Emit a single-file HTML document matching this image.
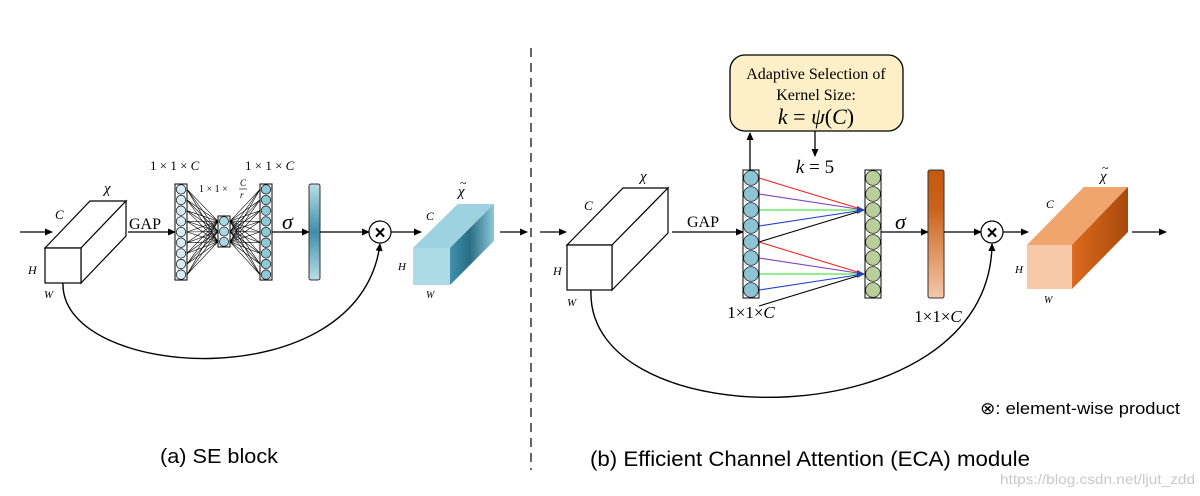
<!DOCTYPE html>
<html><head><meta charset="utf-8"><style>
html,body{margin:0;padding:0;background:#fff;}
svg{display:block;}
text{font-family:"Liberation Serif",serif;}
.sans{font-family:"Liberation Sans",sans-serif;}
</style></head><body>
<svg id="s" width="1200" height="496" viewBox="0 0 1200 496" xmlns="http://www.w3.org/2000/svg">
<defs>
<marker id="ar" markerWidth="8" markerHeight="8" refX="7" refY="4" orient="auto" markerUnits="userSpaceOnUse"><path d="M0,0.5 L8,4 L0,7.5 z" fill="#000"/></marker>
<linearGradient id="gb" x1="0" y1="0" x2="0" y2="1"><stop offset="0" stop-color="#b9dfe8"/><stop offset="0.5" stop-color="#3f8ea8"/><stop offset="1" stop-color="#b9dfe8"/></linearGradient>
<linearGradient id="go" x1="0" y1="0" x2="0" y2="1"><stop offset="0" stop-color="#c4580f"/><stop offset="0.3" stop-color="#c9631c"/><stop offset="1" stop-color="#f5c9a8"/></linearGradient>
<linearGradient id="cubeb" x1="0" y1="0" x2="1" y2="0"><stop offset="0" stop-color="#a8d6e2"/><stop offset="0.5" stop-color="#3a8aa5"/><stop offset="0.7" stop-color="#2a6d85"/><stop offset="1" stop-color="#8cc8d8"/></linearGradient>
<linearGradient id="cubeo" x1="0" y1="0" x2="1" y2="0"><stop offset="0" stop-color="#f2a36a"/><stop offset="0.5" stop-color="#d8661c"/><stop offset="1" stop-color="#a84a0c"/></linearGradient>
</defs>

<line x1="20" y1="232" x2="52" y2="232" stroke="#000" stroke-width="1.3" marker-end="url(#ar)"/>
<g fill="#fff" stroke="#000" stroke-width="1.2">
<polygon points="45,248 90,201 126,201 81,248"/>
<polygon points="81,248 126,201 126,236 81,283"/>
<rect x="45" y="248" width="36" height="35"/>
</g>
<text x="104" y="193" font-style="italic" font-size="15">χ</text>
<text x="55" y="219" font-style="italic" font-size="13">C</text>
<text x="28" y="274" font-style="italic" font-size="12">H</text>
<text x="44" y="298" font-style="italic" font-size="11">W</text>
<text x="129" y="229" font-size="16">GAP</text>
<line x1="128" y1="232" x2="175" y2="232" stroke="#000" stroke-width="1.3" marker-end="url(#ar)"/>
<text x="150" y="170" font-size="13" font-family="DejaVu Serif,serif">1 × 1 × <tspan font-style="italic">C</tspan></text>
<text x="245" y="170" font-size="13" font-family="DejaVu Serif,serif">1 × 1 × <tspan font-style="italic">C</tspan></text>
<text x="199" y="192" font-size="10" font-family="DejaVu Serif,serif">1 × 1 ×</text>
<text x="240" y="186" font-size="9" font-style="italic">C</text>
<line x1="239" y1="189" x2="247" y2="189" stroke="#000" stroke-width="0.6"/>
<text x="240" y="198" font-size="9" font-style="italic">r</text>
<g id="se"></g>
<text x="282" y="229" font-size="22" font-style="italic">σ</text>
<line x1="272" y1="232" x2="309" y2="232" stroke="#000" stroke-width="1.3" marker-end="url(#ar)"/>
<rect x="309" y="184" width="11" height="96" rx="2" fill="url(#gb)" stroke="#333" stroke-width="1"/>
<line x1="320" y1="232" x2="369" y2="232" stroke="#000" stroke-width="1.3" marker-end="url(#ar)"/>
<circle cx="380" cy="232" r="11" fill="#fff" stroke="#000" stroke-width="1.2"/>
<text x="380" y="239" font-size="19" text-anchor="middle" class="sans" font-weight="bold">×</text>
<line x1="391" y1="232" x2="421" y2="232" stroke="#000" stroke-width="1.3" marker-end="url(#ar)"/>
<polygon points="413,248 458,204 494,204 494,241 450,285 413,285" fill="url(#cubeb)"/>
<polygon points="413,248 458,204 494,204 450,248" fill="#9fd2e0"/>
<rect x="413" y="248" width="37" height="37" fill="#acdbe6"/>
<text x="458" y="196" font-style="italic" font-size="15">χ</text>
<text x="460" y="187" font-size="12">~</text>
<text x="426" y="220" font-style="italic" font-size="12">C</text>
<text x="398" y="270" font-style="italic" font-size="11">H</text>
<text x="426" y="298" font-style="italic" font-size="10">W</text>
<line x1="500" y1="232" x2="527" y2="232" stroke="#000" stroke-width="1.3" marker-end="url(#ar)"/>
<path d="M63,283 C60,380 360,400 380,244" fill="none" stroke="#000" stroke-width="1.4" marker-end="url(#ar)"/>
<line x1="531" y1="48" x2="531" y2="470" stroke="#000" stroke-width="1.2" stroke-dasharray="9,6"/>

<line x1="540" y1="232" x2="566" y2="232" stroke="#000" stroke-width="1.3" marker-end="url(#ar)"/>
<g fill="#fff" stroke="#000" stroke-width="1.2">
<polygon points="567,245 623,188 668,188 612,245"/>
<polygon points="612,245 668,188 668,233 612,290"/>
<rect x="567" y="245" width="45" height="45"/>
</g>
<text x="640" y="181" font-style="italic" font-size="15">χ</text>
<text x="584" y="210" font-style="italic" font-size="13">C</text>
<text x="553" y="275" font-style="italic" font-size="12">H</text>
<text x="567" y="306" font-style="italic" font-size="11">W</text>
<text x="687" y="227" font-size="16">GAP</text>
<line x1="672" y1="232" x2="743" y2="232" stroke="#000" stroke-width="1.3" marker-end="url(#ar)"/>
<rect x="730" y="55" width="173" height="76" rx="15" fill="#fdf0c8" stroke="#000" stroke-width="1.3"/>
<text x="816" y="79" font-size="16" text-anchor="middle">Adaptive Selection of</text>
<text x="816" y="100" font-size="16" text-anchor="middle">Kernel Size:</text>
<text x="816" y="124" font-size="22" text-anchor="middle" font-style="italic">k <tspan font-style="normal">=</tspan> ψ<tspan font-style="normal">(</tspan>C<tspan font-style="normal">)</tspan></text>
<line x1="750" y1="170" x2="750" y2="133" stroke="#000" stroke-width="1.3" marker-end="url(#ar)"/>
<line x1="815" y1="131" x2="815" y2="156" stroke="#000" stroke-width="1.3" marker-end="url(#ar)"/>
<text x="815" y="173" font-size="19" text-anchor="middle" font-style="italic">k <tspan font-style="normal">= 5</tspan></text>
<g id="eca"></g>
<text x="895" y="229" font-size="22" font-style="italic">σ</text>
<line x1="881" y1="232" x2="928" y2="232" stroke="#000" stroke-width="1.3" marker-end="url(#ar)"/>
<rect x="928" y="170" width="16" height="128" rx="2" fill="url(#go)" stroke="#333" stroke-width="1"/>
<line x1="944" y1="232" x2="981" y2="232" stroke="#000" stroke-width="1.3" marker-end="url(#ar)"/>
<circle cx="992" cy="232" r="11" fill="#fff" stroke="#000" stroke-width="1.2"/>
<text x="992" y="239" font-size="19" text-anchor="middle" class="sans" font-weight="bold">×</text>
<line x1="1003" y1="232" x2="1028" y2="232" stroke="#000" stroke-width="1.3" marker-end="url(#ar)"/>
<polygon points="1027,245 1084,187 1128,187 1128,232 1072,289 1027,289" fill="url(#cubeo)"/>
<polygon points="1027,245 1084,187 1128,187 1072,245" fill="#f0a56e"/>
<rect x="1027" y="245" width="45" height="44" fill="#f7c9a8"/>
<text x="1100" y="181" font-style="italic" font-size="15">χ</text>
<text x="1102" y="172" font-size="12">~</text>
<text x="1046" y="208" font-style="italic" font-size="12">C</text>
<text x="1015" y="273" font-style="italic" font-size="11">H</text>
<text x="1044" y="303" font-style="italic" font-size="10">W</text>
<line x1="1132" y1="232" x2="1166" y2="232" stroke="#000" stroke-width="1.3" marker-end="url(#ar)"/>
<text x="751" y="318" font-size="17" text-anchor="middle">1×1×<tspan font-style="italic">C</tspan></text>
<text x="938" y="322" font-size="17" text-anchor="middle">1×1×<tspan font-style="italic">C</tspan></text>
<path d="M591,290 C585,440 990,440 992,244" fill="none" stroke="#000" stroke-width="1.4" marker-end="url(#ar)"/>
<text x="980" y="414" font-size="17" class="sans" textLength="200" lengthAdjust="spacingAndGlyphs">⊗: element-wise product</text>
<text x="160" y="463" font-size="20" class="sans" textLength="118" lengthAdjust="spacingAndGlyphs">(a) SE block</text>
<text x="590" y="466" font-size="21" class="sans" textLength="440" lengthAdjust="spacingAndGlyphs">(b) Efficient Channel Attention (ECA) module</text>
<text x="1000" y="484" font-size="14" class="sans" fill="#c8c8c8" textLength="195" lengthAdjust="spacingAndGlyphs">https://blog.csdn.net/ljut_zdd</text>
</svg>
<script>
var NS="http://www.w3.org/2000/svg";
function el(p,t,a){var e=document.createElementNS(NS,t);for(var k in a)e.setAttribute(k,a[k]);p.appendChild(e);return e;}
var se=document.getElementById("se");
var L=[],M=[],R=[];
for(var i=0;i<9;i++){L.push(184+5.33+i*10.67);R.push(184+5.33+i*10.67);}
for(var i=0;i<3;i++)M.push(216+5.17+i*10.33);
L.forEach(function(a){M.forEach(function(b){el(se,"line",{x1:187,y1:a,x2:218,y2:b,stroke:"#000","stroke-width":0.6});});});
M.forEach(function(b){R.forEach(function(a){el(se,"line",{x1:230,y1:b,x2:260,y2:a,stroke:"#000","stroke-width":0.6});});});
function col(g,x,y,w,n,d,fill){el(g,"rect",{x:x,y:y,width:w,height:n*d,fill:"#fff",stroke:"#000","stroke-width":1});
for(var i=0;i<n;i++)el(g,"circle",{cx:x+w/2,cy:y+d/2+i*d,r:d/2-0.6,fill:fill,stroke:"#222","stroke-width":0.8});}
col(se,175,184,12,9,10.67,"#d5ecf2");col(se,218,216,12,3,10.33,"#a9d6e3");col(se,260,184,12,9,10.67,"#8ec9d8");
var eca=document.getElementById("eca");
var cols=["#ff2020","#8040c0","#20e020","#2040d0","#000"];
var by=function(i){return 178+16*i;};
[[0,2],[4,6]].forEach(function(p){for(var j=0;j<5;j++){el(eca,"line",{x1:759,y1:by(p[0]+j),x2:864,y2:by(p[1]),stroke:cols[j],"stroke-width":1.1});}
el(eca,"path",{d:"M857,"+(by(p[1])-4)+" L865,"+by(p[1])+" L857,"+(by(p[1])+4)+"z",fill:"#3040b0"});});
col(eca,743,170,16,8,16,"#8cc6d6");col(eca,865,170,16,8,16,"#b9cf9a");
</script>
</body></html>
